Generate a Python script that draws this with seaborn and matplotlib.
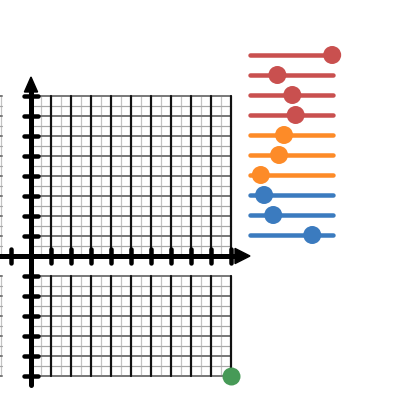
import numpy as np
import matplotlib
matplotlib.use("Agg")
import matplotlib.pyplot as plt
import seaborn as sns
import pandas as pd

# slider tracks on the right: knob position as fraction of the track
slider_values = [0.99, 0.33, 0.51, 0.55, 0.41, 0.35, 0.13, 0.17, 0.28, 0.75]
slider_groups = ["red", "red", "red", "red", "orange", "orange", "orange",
                 "blue", "blue", "blue"]
group_colors = {"red": "#c9504f", "orange": "#fd8b28", "blue": "#3b7bbf"}

# graph paper extents (grid units)
x_range = (0, 10)
upper_y = (0, 8)
lower_y = (-6, -1)
x_ticks = [-1, 1, 2, 3, 4, 5, 6, 7, 8, 9, 10]
y_ticks = [-6, -5, -4, -3, -2, -1, 1, 2, 3, 4, 5, 6, 7, 8]

# the single plotted point
point_x = [10]
point_y = [-6]

sns.set_style("white")
fig = plt.figure(figsize=(4, 4), dpi=100)
ax = fig.add_axes([0, 0, 1, 1])

px = 72 / 100  # points per pixel


def draw_paper(x0, x1, y0, y1):
    for v in np.arange(np.ceil(x0 * 2) / 2, x1 + 1e-9, 0.5):
        if abs(v - round(v)) < 1e-9:
            ax.plot([v, v], [y0, y1], color="#111111", lw=2.2 * px, zorder=2)
        else:
            ax.plot([v, v], [y0, y1], color="#c4c4c4", lw=1.2 * px, zorder=1)
    for h in np.arange(y0, y1 + 1e-9, 0.5):
        if abs(h - round(h)) < 1e-9:
            ax.plot([x0, x1], [h, h], color="#7a7a7a", lw=2 * px, zorder=1.5)
        else:
            ax.plot([x0, x1], [h, h], color="#a8a8a8", lw=1.2 * px, zorder=1)


draw_paper(x_range[0], x_range[1], *upper_y)
draw_paper(x_range[0], x_range[1], *lower_y)
draw_paper(-1.6, -1.45, *upper_y)
draw_paper(-1.6, -1.45, *lower_y)

# axes with arrows
ax.plot([-1.6, 10.3], [0, 0], color="black", lw=5 * px, zorder=5)
ax.plot([0, 0], [-6.45, 8.3], color="black", lw=5 * px, zorder=5,
        solid_capstyle="round")
ax.fill([10.2, 10.2, 10.95], [-0.38, 0.38, 0], color="black", zorder=5)
ax.fill([-0.33, 0.33, 0], [8.2, 8.2, 8.95], color="black", zorder=5)
for t in x_ticks:
    ax.plot([t, t], [-0.35, 0.35], color="black", lw=4.5 * px, zorder=5,
            solid_capstyle="round")
for t in y_ticks:
    ax.plot([-0.35, 0.35], [t, t], color="black", lw=4.5 * px, zorder=5,
            solid_capstyle="round")

# sliders
track_x0, track_x1 = 10.95, 15.1
rows = 10.05 - np.arange(len(slider_values))
for r, g in zip(rows, slider_groups):
    ax.plot([track_x0, track_x1], [r, r], color=group_colors[g], lw=4.5 * px,
            solid_capstyle="round", zorder=3)
knobs = pd.DataFrame({
    "x": track_x0 + np.array(slider_values) * (track_x1 - track_x0),
    "y": rows,
    "group": slider_groups,
})
sns.scatterplot(data=knobs, x="x", y="y", hue="group", palette=group_colors,
                s=(18 * px) ** 2, linewidth=0, alpha=1, legend=False,
                ax=ax, zorder=4)

pts = pd.DataFrame({"x": point_x, "y": point_y})
sns.scatterplot(data=pts, x="x", y="y", color="#479a57", s=(18 * px) ** 2,
                linewidth=0, legend=False, ax=ax, zorder=6)

ax.set_xlim(-1.55, 18.45)
ax.set_ylim(-7.2, 12.8)
ax.axis("off")
fig.savefig("out.png", dpi=100)
